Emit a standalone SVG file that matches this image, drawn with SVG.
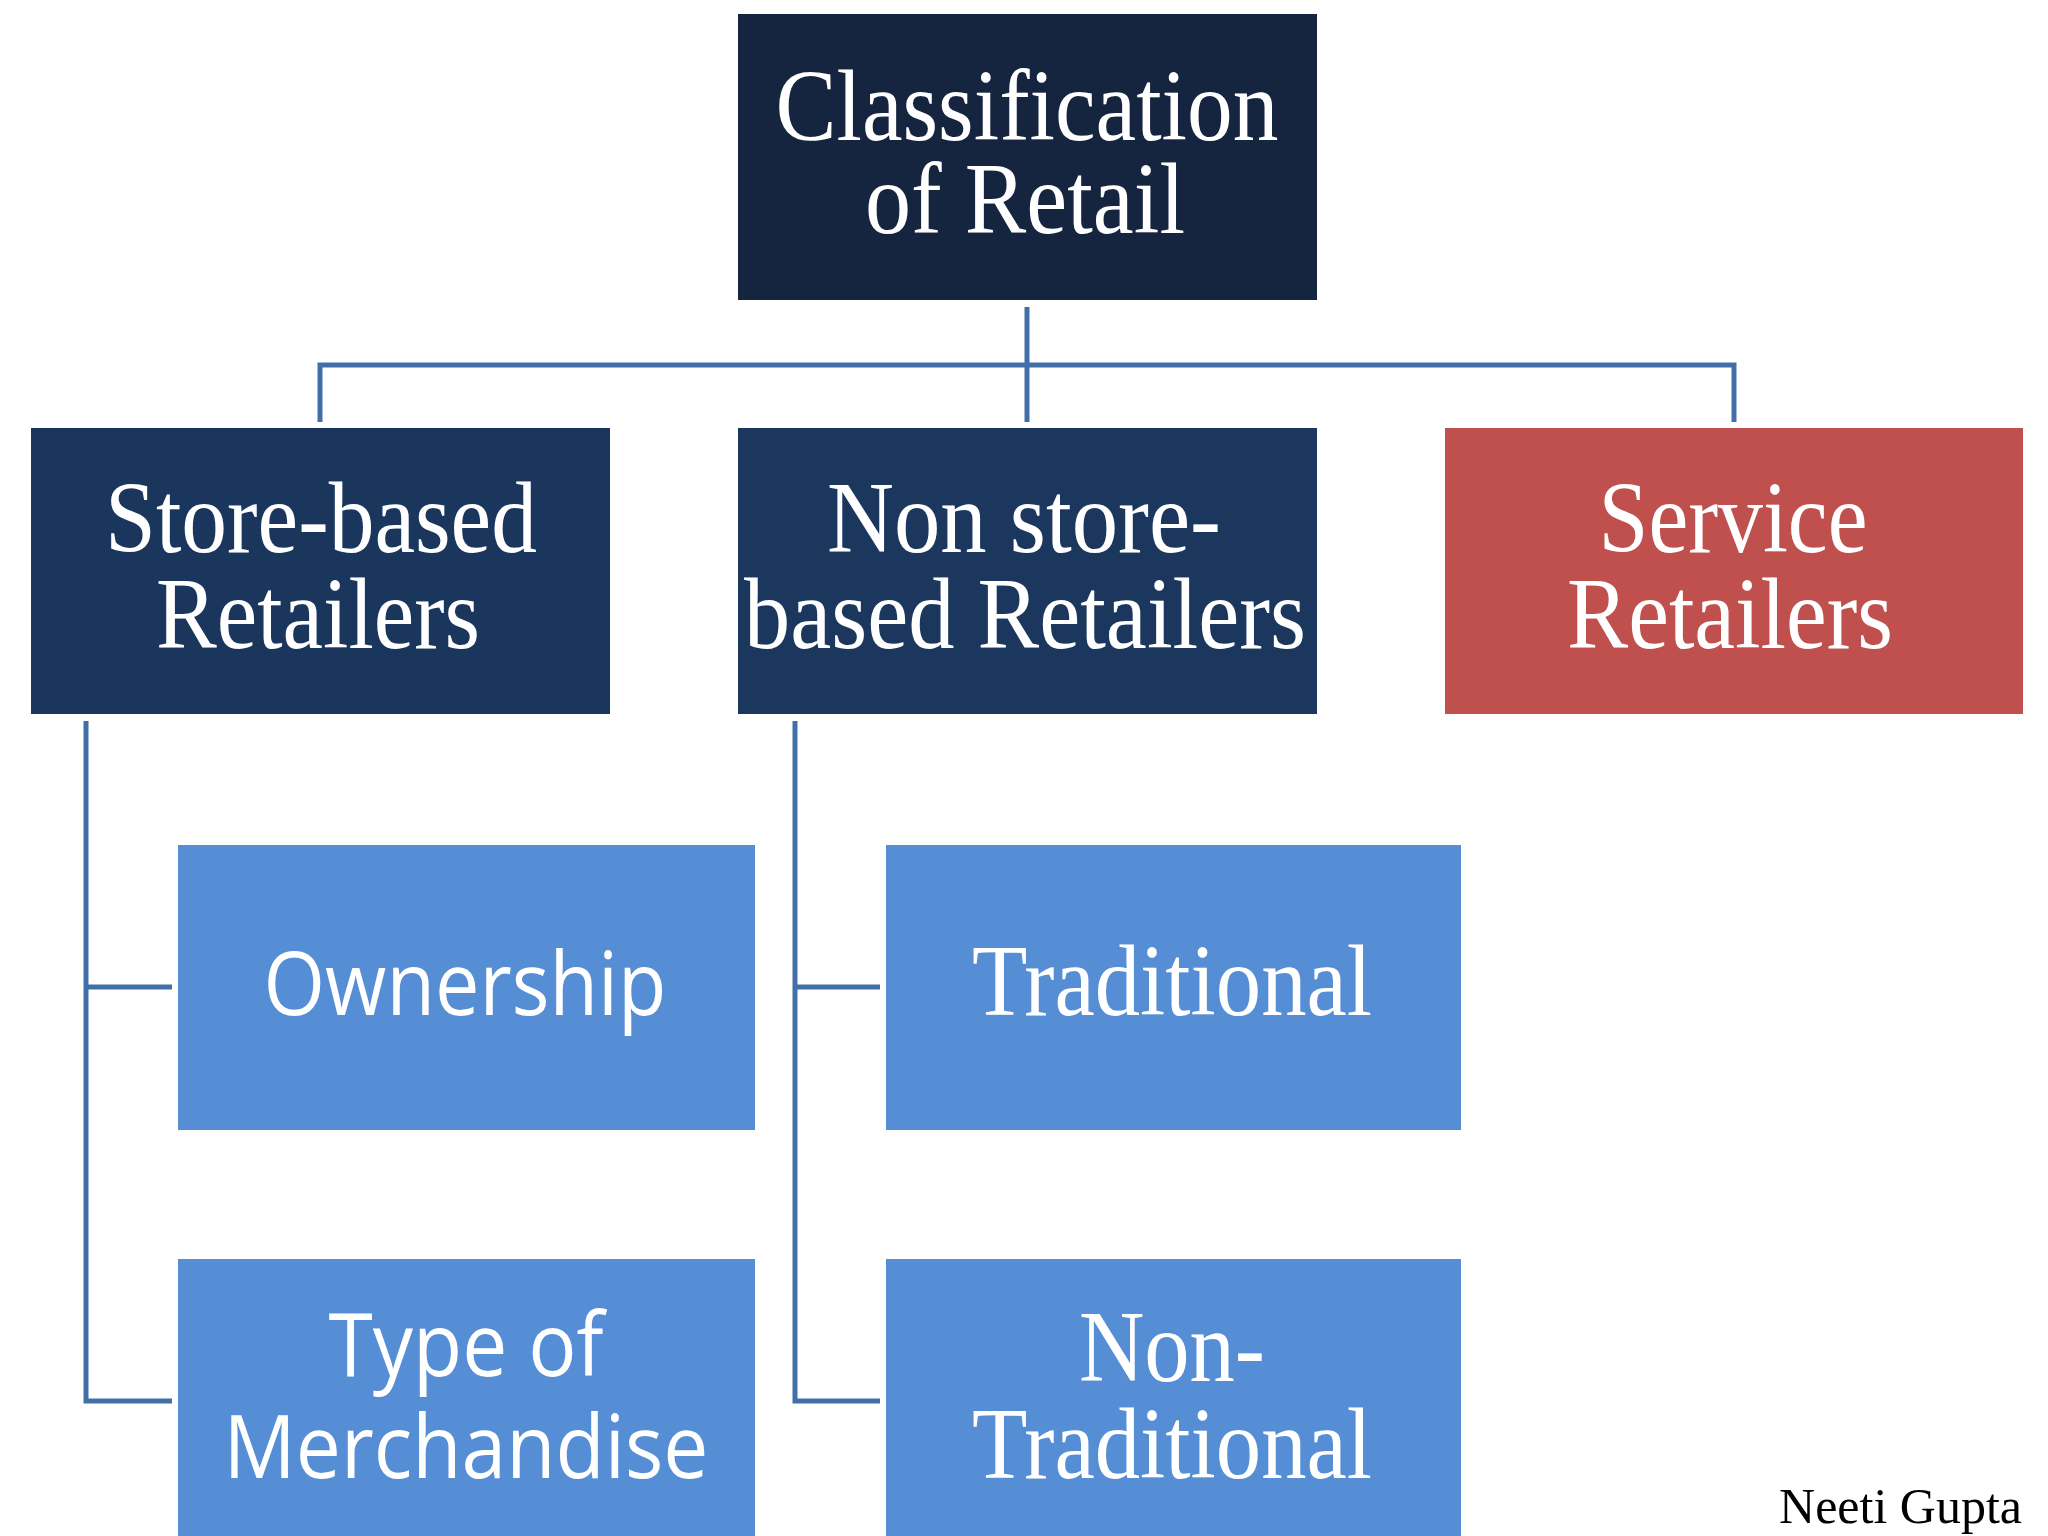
<svg xmlns="http://www.w3.org/2000/svg" width="2048" height="1536" viewBox="0 0 2048 1536">
<style>
.serif{font-family:"Liberation Serif","Times New Roman",serif;fill:#ffffff;text-anchor:middle}
.sans{font-family:"Open Sans","Noto Sans",sans-serif;fill:#ffffff;text-anchor:middle}
.conn{stroke:#4170a8;stroke-width:5;fill:none}
</style>
<rect width="2048" height="1536" fill="#ffffff"/>
<g id="connectors">
<path class="conn" d="M1027 307V422M320 422V365H1734V422"/>
<path class="conn" d="M86 721V1401H172M86 987H172"/>
<path class="conn" d="M795 721V1401H880M795 987H880"/>
</g>
<g id="n-root">
<rect x="738" y="14" width="579" height="286" fill="#15243f"/>
<text class="serif" font-size="102" x="1027" y="140" textLength="503" lengthAdjust="spacingAndGlyphs">Classification</text>
<text class="serif" font-size="102" x="1025" y="233" textLength="320" lengthAdjust="spacingAndGlyphs">of Retail</text>
</g>
<g id="n-store">
<rect x="31" y="428" width="579" height="286" fill="#1a365d"/>
<text class="serif" font-size="102" x="321" y="552" textLength="432" lengthAdjust="spacingAndGlyphs">Store-based</text>
<text class="serif" font-size="102" x="318" y="648" textLength="324" lengthAdjust="spacingAndGlyphs">Retailers</text>
</g>
<g id="n-nonstore">
<rect x="738" y="428" width="579" height="286" fill="#1b375e"/>
<text class="serif" font-size="102" x="1024" y="552" textLength="394" lengthAdjust="spacingAndGlyphs">Non store-</text>
<text class="serif" font-size="102" x="1025" y="648" textLength="562" lengthAdjust="spacingAndGlyphs">based Retailers</text>
</g>
<g id="n-service">
<rect x="1445" y="428" width="578" height="286" fill="#c0504d"/>
<text class="serif" font-size="102" x="1733" y="552" textLength="269" lengthAdjust="spacingAndGlyphs">Service</text>
<text class="serif" font-size="102" x="1730" y="648" textLength="326" lengthAdjust="spacingAndGlyphs">Retailers</text>
</g>
<g id="n-ownership">
<rect x="178" y="845" width="577" height="285" fill="#558ed5"/>
<text class="sans" font-size="88" x="465" y="1015" textLength="403" lengthAdjust="spacingAndGlyphs">Ownership</text>
</g>
<g id="n-type">
<rect x="178" y="1259" width="577" height="285" fill="#558ed5"/>
<text class="sans" font-size="88" x="466" y="1376" textLength="275" lengthAdjust="spacingAndGlyphs">Type of</text>
<text class="sans" font-size="88" x="466" y="1478" textLength="485" lengthAdjust="spacingAndGlyphs">Merchandise</text>
</g>
<g id="n-traditional">
<rect x="886" y="845" width="575" height="285" fill="#558ed5"/>
<text class="serif" font-size="102" x="1172" y="1015" textLength="400" lengthAdjust="spacingAndGlyphs">Traditional</text>
</g>
<g id="n-nontraditional">
<rect x="886" y="1259" width="575" height="285" fill="#558ed5"/>
<text class="serif" font-size="102" x="1172" y="1381" textLength="186" lengthAdjust="spacingAndGlyphs">Non-</text>
<text class="serif" font-size="102" x="1172" y="1478" textLength="400" lengthAdjust="spacingAndGlyphs">Traditional</text>
</g>
<text x="2022" y="1523" font-family="Liberation Serif,Times New Roman,serif" font-size="50" fill="#000000" text-anchor="end">Neeti Gupta</text>
</svg>
